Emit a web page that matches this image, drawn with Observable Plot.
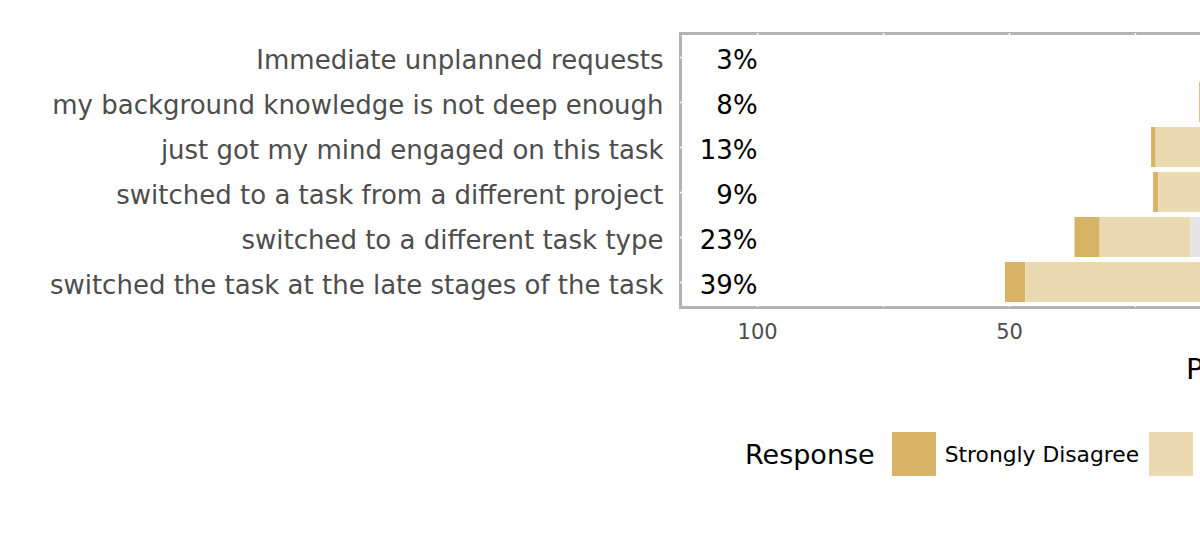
<!DOCTYPE html>
<html><head><meta charset="utf-8">
<script src="https://cdn.jsdelivr.net/npm/d3@7"></script>
<script src="https://cdn.jsdelivr.net/npm/@observablehq/plot@0.6"></script>
<style>
html,body{margin:0;padding:0;background:#fff;}
#wrap{position:relative;width:1200px;height:556px;overflow:hidden;font-family:"DejaVu Sans",sans-serif;}
#chart{width:1800px;}
#legend{position:absolute;left:745px;top:432px;display:flex;align-items:center;white-space:nowrap;color:#000;}
#legend .title{font-size:27px;margin-right:17px;}
#legend .sw{width:44px;height:44px;margin-right:9px;flex:none;}
#legend .lab{font-size:21.8px;margin-right:10px;}
</style></head><body><div id="wrap"><div id="chart"></div><div id="legend"></div></div>
<script>
const items = [
  "Immediate unplanned requests",
  "my background knowledge is not deep enough",
  "just got my mind engaged on this task",
  "switched to a task from a different project",
  "switched to a different task type",
  "switched the task at the late stages of the task"
];
const lowPct = [3, 8, 13, 9, 23, 39];
const stronglyDisagree = [0, 1, 0.9, 1, 5, 4];
const disagree = [3, 7, 12.1, 8.4, 18, 35];
const neutral = [12, 8.5, 17.6, 24, 28, 23.6];
const responses = ["Strongly Disagree", "Disagree", "Neutral"];
const colors = ["#D8B365", "#EBD9B2", "#E5E5E5"];
const xTicks = [-100, -50];
const xGrid = [-100, -75, -50, -25, 0, 25, 50, 75, 100];

const segments = items.flatMap((item, i) => {
  const h = neutral[i] / 2;
  return [
    {item, response: responses[0], x1: -(h + disagree[i] + stronglyDisagree[i]), x2: -(h + disagree[i])},
    {item, response: responses[1], x1: -(h + disagree[i]), x2: -h},
    {item, response: responses[2], x1: -h, x2: h}
  ];
});

const chart = Plot.plot({
  width: 1800, height: 400,
  marginLeft: 680, marginRight: 0, marginTop: 33, marginBottom: 93,
  style: {fontFamily: "DejaVu Sans", background: "white", maxWidth: "none"},
  x: {domain: [-115.3, 107]},
  y: {domain: items, paddingInner: 0.111, paddingOuter: 0.096},
  color: {domain: responses, range: colors},
  marks: [
    Plot.frame({stroke: "#b3b3b3", strokeWidth: 3}),
    Plot.gridX(xGrid, {stroke: "white", strokeOpacity: 1, strokeWidth: 1.5}),
    Plot.gridY(items, {stroke: "white", strokeOpacity: 1, strokeWidth: 1.5}),
    Plot.barX(segments, {y: "item", x1: "x1", x2: "x2", fill: "response"}),
    Plot.text(items, {y: d => d, x: -100, dy: 3, text: (d, i) => lowPct[i] + "%", textAnchor: "end", fontSize: 26, fill: "black"}),
    Plot.axisX(xTicks, {tickSize: 0, tickPadding: 17, fontSize: 21, color: "#4d4d4d", tickFormat: d => Math.abs(d), label: null}),
    Plot.axisY({tickSize: 0, tickPadding: 17, dy: 3, fontSize: 26, color: "#4d4d4d", label: null}),
    Plot.text(["Percent"], {frameAnchor: "bottom", dy: 71, lineAnchor: "bottom", fontSize: 29, fill: "black"})
  ]
});
document.getElementById("chart").appendChild(chart);

const legend = document.getElementById("legend");
const t = document.createElement("span");
t.className = "title"; t.textContent = "Response";
legend.appendChild(t);
responses.forEach((r, i) => {
  const sw = document.createElement("span");
  sw.className = "sw"; sw.style.background = colors[i];
  const lab = document.createElement("span");
  lab.className = "lab"; lab.textContent = r;
  legend.appendChild(sw); legend.appendChild(lab);
});
</script>
</body></html>
